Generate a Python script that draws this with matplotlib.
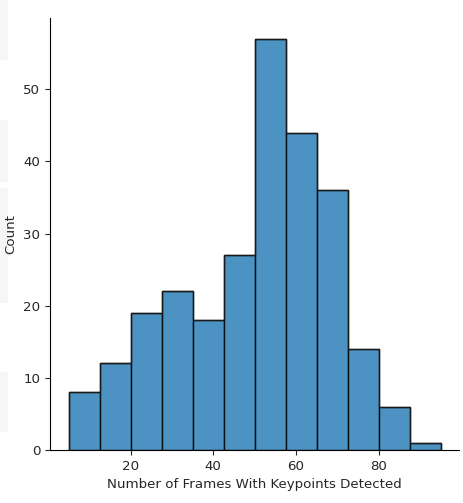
import numpy as np
import matplotlib.pyplot as plt
from matplotlib.patches import Rectangle

# histogram: 12 bins from 5 to 95
bin_edges = [5, 12.5, 20, 27.5, 35, 42.5, 50, 57.5, 65, 72.5, 80, 87.5, 95]
counts = [8, 12, 19, 22, 18, 27, 57, 44, 36, 14, 6, 1]
x_ticks = [20, 40, 60, 80]
y_ticks = [0, 10, 20, 30, 40, 50]

edges = np.array(bin_edges)
centers = (edges[:-1] + edges[1:]) / 2

fig = plt.figure(figsize=(4.63, 5.03), dpi=100)
ax = fig.add_axes([50 / 463, 0.1054, 409.3 / 463, 0.8582])

# faint notebook strips along the left edge
for y0, y1 in [(0, 60), (120, 182), (188, 303), (372, 432)]:
    fig.patches.append(Rectangle((0, 1 - y1 / 503), 8 / 463, (y1 - y0) / 503,
                                 transform=fig.transFigure, facecolor="#f6f6f6",
                                 edgecolor="none", zorder=-1))

ax.hist(centers, bins=edges, weights=counts, color="#1f77b4", alpha=0.8,
        edgecolor="black", linewidth=1.0)
ax.hist(centers, bins=edges, weights=counts, histtype="step",
        edgecolor="#1a1a1a", linewidth=1.0)

ax.set_xlim(edges[0] - 0.05 * (edges[-1] - edges[0]), edges[-1] + 0.05 * (edges[-1] - edges[0]))
ax.set_ylim(0, max(counts) * 1.05)
ax.set_xticks(x_ticks)
ax.set_yticks(y_ticks)
ax.tick_params(labelsize=9.6, colors="#262626")
ax.spines["top"].set_visible(False)
ax.spines["right"].set_visible(False)
ax.set_xlabel("Number of Frames With Keypoints Detected", fontsize=9.6, color="#262626")
ax.set_ylabel("Count", fontsize=9.6, color="#262626")

fig.savefig("out.png", dpi=100)
